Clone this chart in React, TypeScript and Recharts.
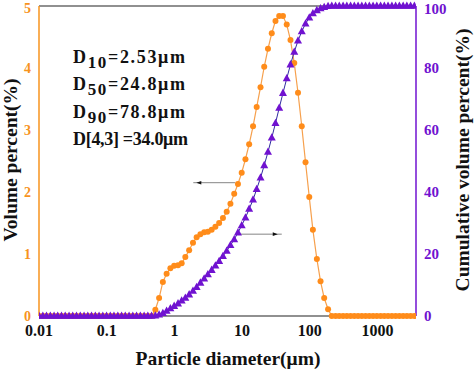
import React from 'react';
import {
  ComposedChart,
  Line,
  XAxis,
  YAxis,
  ReferenceLine,
} from 'recharts';

// particle size classes (µm), laser diffraction bins
const SIZES = [
  0.01, 0.0114, 0.0129, 0.0147, 0.0167, 0.0189, 0.0215, 0.0244, 0.0278, 0.0315,
  0.0358, 0.0407, 0.0463, 0.0526, 0.0597, 0.0679, 0.0771, 0.0876, 0.0995, 0.113,
  0.128, 0.146, 0.166, 0.188, 0.214, 0.243, 0.276, 0.314, 0.357, 0.405,
  0.46, 0.523, 0.594, 0.675, 0.767, 0.872, 0.991, 1.13, 1.28, 1.45,
  1.65, 1.88, 2.13, 2.42, 2.75, 3.12, 3.55, 4.03, 4.58, 5.21,
  5.92, 6.72, 7.64, 8.68, 9.86, 11.2, 12.7, 14.5, 16.4, 18.7,
  21.2, 24.1, 27.4, 31.1, 35.3, 40.1, 45.6, 51.8, 58.9, 66.9,
  76, 86.4, 98.1, 111, 127, 144, 163, 186, 211, 240,
  272, 310, 352, 400, 454, 516, 586, 666, 756, 859,
  976, 1110, 1260, 1430, 1630, 1850, 2100, 2390, 2710, 3080,
  3500,
];

// volume percent (%) per class
const VOLUME = [
  0, 0, 0, 0, 0, 0, 0, 0, 0, 0,
  0, 0, 0, 0, 0, 0, 0, 0, 0, 0,
  0, 0, 0, 0, 0, 0, 0, 0, 0, 0,
  0, 0.10, 0.29, 0.55, 0.68, 0.77, 0.81, 0.82, 0.85, 0.95,
  1.06, 1.18, 1.27, 1.32, 1.35, 1.36, 1.39, 1.44, 1.50, 1.58,
  1.68, 1.81, 1.97, 2.13, 2.31, 2.53, 2.77, 3.06, 3.37, 3.69,
  4.02, 4.31, 4.56, 4.76, 4.84, 4.84, 4.70, 4.45, 4.08, 3.60,
  3.06, 2.48, 1.92, 1.39, 0.92, 0.56, 0.29, 0.11, 0, 0,
  0, 0, 0, 0, 0, 0, 0, 0, 0, 0,
  0, 0, 0, 0, 0, 0, 0, 0, 0, 0,
  0,
];

// cumulative volume percent (%)
const CUMULATIVE = [
  0, 0, 0, 0, 0, 0, 0, 0, 0, 0,
  0, 0, 0, 0, 0, 0, 0, 0, 0, 0,
  0, 0, 0, 0, 0, 0, 0, 0, 0, 0,
  0, 0.1, 0.4, 0.9, 1.6, 2.4, 3.2, 4.0, 4.9, 5.8,
  6.9, 8.1, 9.3, 10.7, 12.0, 13.4, 14.8, 16.2, 17.7, 19.3,
  21.0, 22.8, 24.7, 26.9, 29.2, 31.7, 34.5, 37.5, 40.9, 44.6,
  48.6, 52.9, 57.5, 62.2, 67.1, 71.9, 76.6, 81.1, 85.2, 88.8,
  91.8, 94.3, 96.2, 97.6, 98.6, 99.2, 99.6, 99.9, 100, 100,
  100, 100, 100, 100, 100, 100, 100, 100, 100, 100,
  100, 100, 100, 100, 100, 100, 100, 100, 100, 100,
  100,
];

const X_TICKS = [0.01, 0.1, 1, 10, 100, 1000];
const LEFT_TICKS = [0, 1, 2, 3, 4, 5];
const RIGHT_TICKS = [0, 20, 40, 60, 80, 100];

const STATS = [
  { name: 'D', sub: '10', value: '=2.53μm' },
  { name: 'D', sub: '50', value: '=24.8μm' },
  { name: 'D', sub: '90', value: '=78.8μm' },
  { name: 'D[4,3] ', sub: '', value: '=34.0μm' },
];

const data = SIZES.map((size, i) => ({
  size,
  volume: VOLUME[i],
  cumulative: CUMULATIVE[i],
}));

const ORANGE = '#F7931E';
const PURPLE = '#7012D0';
const FONT = '"Liberation Serif", "Times New Roman", serif';

const TriangleDot = (props: any) => {
  const { cx, cy, index } = props;
  if (cx == null || cy == null) return <g key={`t-${index}`} />;
  return (
    <polygon
      key={`t-${index}`}
      points={`${cx},${cy - 4.5} ${cx - 4},${cy + 2.8} ${cx + 4},${cy + 2.8}`}
      fill={PURPLE}
    />
  );
};

const arrowShape = (dir: 'left' | 'right') => (props: any) => {
  const { x1, y1, x2, y2 } = props;
  const tipX = dir === 'left' ? Math.min(x1, x2) + 3 : Math.max(x1, x2) - 4;
  const s = dir === 'left' ? 1 : -1;
  return (
    <g>
      <line x1={x1} y1={y1} x2={x2} y2={y2} stroke="#666" strokeWidth={0.8} />
      <polygon
        points={`${tipX},${y1} ${tipX + 5 * s},${y1 - 1.8} ${tipX + 5 * s},${y1 + 1.8}`}
        fill="#111"
      />
    </g>
  );
};

export default function App() {
  return (
    <div style={{ position: 'absolute', left: 0, top: 0, width: 474, height: 372, background: '#fff', fontFamily: FONT }}>
      <ComposedChart
        width={474}
        height={372}
        data={data}
        margin={{ top: 6, right: 0, bottom: 0, left: 0 }}
      >
        <XAxis
          dataKey="size"
          type="number"
          scale="log"
          domain={[0.01, 3700]}
          allowDataOverflow
          ticks={X_TICKS}
          tickFormatter={(v) => String(v)}
          height={56}
          axisLine={{ stroke: '#222', strokeWidth: 1.2 }}
          tickLine={false}
          tickMargin={3}
          tick={{ fill: '#111', fontSize: 16, fontWeight: 700, fontFamily: FONT }}
        />
        <YAxis
          yAxisId="left"
          domain={[0, 5]}
          ticks={LEFT_TICKS}
          width={39}
          axisLine={{ stroke: ORANGE, strokeWidth: 1.5 }}
          tickLine={false}
          tick={{ fill: ORANGE, fontSize: 14, fontWeight: 700, fontFamily: FONT }}
        />
        <YAxis
          yAxisId="right"
          orientation="right"
          domain={[0, 100]}
          ticks={RIGHT_TICKS}
          width={58}
          axisLine={{ stroke: PURPLE, strokeWidth: 1.5 }}
          tickLine={false}
          tick={{ fill: PURPLE, fontSize: 15, fontWeight: 700, fontFamily: FONT }}
        />
        <ReferenceLine yAxisId="left" y={5} stroke="#222" strokeWidth={1.2} />
        <ReferenceLine
          yAxisId="left"
          segment={[{ x: 1.9, y: 2.15 }, { x: 7.85, y: 2.15 }]}
          shape={arrowShape('left')}
        />
        <ReferenceLine
          yAxisId="left"
          segment={[{ x: 9.3, y: 1.32 }, { x: 38.5, y: 1.32 }]}
          shape={arrowShape('right')}
        />
        <Line
          yAxisId="left"
          dataKey="volume"
          type="linear"
          stroke="#F6A04D"
          strokeWidth={1.2}
          dot={{ r: 3, fill: '#FF8C1A', stroke: 'none' }}
          isAnimationActive={false}
        />
        <Line
          yAxisId="right"
          dataKey="cumulative"
          type="linear"
          stroke="#2F2AA0"
          strokeWidth={1}
          dot={TriangleDot}
          isAnimationActive={false}
        />
      </ComposedChart>

      <svg
        width={474}
        height={372}
        style={{ position: 'absolute', left: 0, top: 0, pointerEvents: 'none' }}
      >
        <g fontFamily={FONT} fontWeight={700} fill="#111">
          {STATS.map((s, i) => (
            <text
              key={s.sub + i}
              x={73}
              y={63 + i * 27.3}
              fontSize={18}
              textLength={s.sub ? 112 : 115}
              lengthAdjust="spacing"
            >
              {s.name}
              {s.sub && (
                <tspan dy={5} fontSize={17}>{s.sub}</tspan>
              )}
              <tspan dy={s.sub ? -5 : 0}>{s.value}</tspan>
            </text>
          ))}
          <text
            transform="translate(17,160) rotate(-90)"
            textAnchor="middle"
            fontSize={19.5}
          >
            Volume percent(%)
          </text>
          <text
            transform="translate(469,160) rotate(-90)"
            textAnchor="middle"
            fontSize={19.5}
          >
            Cumulative volume percent(%)
          </text>
          <text x={228} y={365} textAnchor="middle" fontSize={19.5}>
            Particle diameter(μm)
          </text>
        </g>
      </svg>
    </div>
  );
}
